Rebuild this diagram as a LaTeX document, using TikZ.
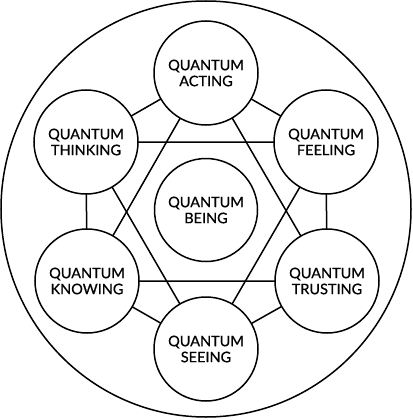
\documentclass[tikz,border=0pt]{standalone}
\usepackage{fontspec}
\setmainfont{Lato}
\newfontfamily\qfont[FakeBold=0.7]{Lato}
\usetikzlibrary{backgrounds,shapes.geometric}
\begin{document}
\begin{tikzpicture}[x=1pt,y=-1pt,
  qcircle/.style={circle,draw,line width=1.5pt,fill=white,minimum size=104pt,inner sep=0pt,
    align=center,font=\qfont\fontsize{14.5}{16}\selectfont},
  link/.style={line width=1.5pt}]
\useasboundingbox (0,0) rectangle (412,420);
\node[draw,line width=1.5pt,ellipse,minimum width=410pt,minimum height=416pt,inner sep=0pt] (outer) at (206,209) {};
\node[qcircle] (a)  at (206,73)  {QUANTUM\\ACTING};
\node[qcircle] (f)  at (326,142) {QUANTUM\\FEELING};
\node[qcircle] (tr) at (327,281) {QUANTUM\\TRUSTING};
\node[qcircle] (s)  at (206,349) {QUANTUM\\SEEING};
\node[qcircle] (k)  at (87,281)  {QUANTUM\\KNOWING};
\node[qcircle] (th) at (86,142)  {QUANTUM\\THINKING};
\node[qcircle,minimum size=103pt] (b) at (206,210) {QUANTUM\\BEING};
\begin{scope}[on background layer]
\draw[link] (a.center) -- (f.center) -- (tr.center) -- (s.center) -- (k.center) -- (th.center) -- (a.center);
\draw[link] (a.center) -- (k.center) -- (tr.center) -- cycle;
\draw[link] (s.center) -- (th.center) -- (f.center) -- cycle;
\end{scope}
\end{tikzpicture}
\end{document}
